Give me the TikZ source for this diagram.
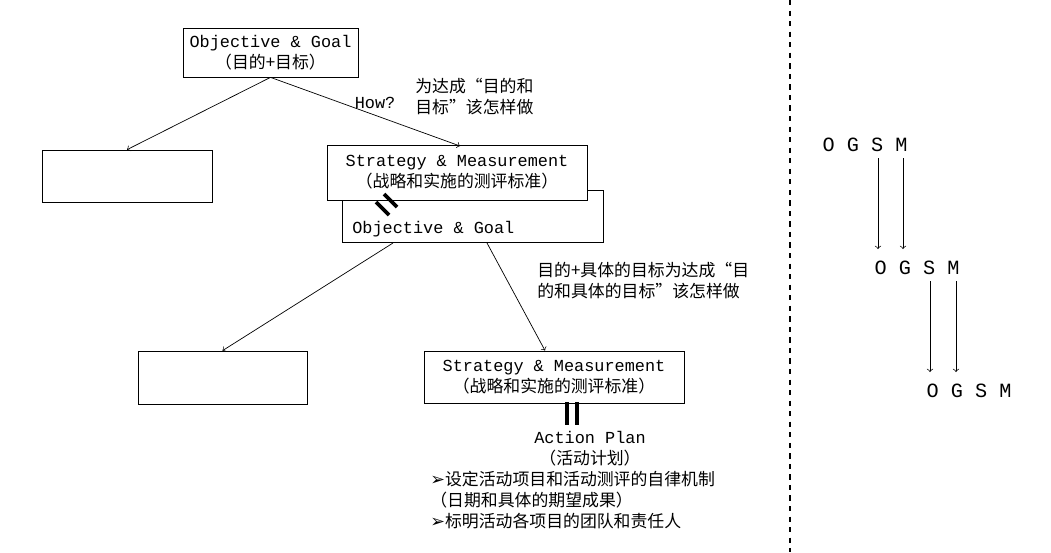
\documentclass[tikz,border=0pt]{standalone}
\usepackage{fontspec}
\setmainfont{Liberation Mono}
\newfontfamily\cjk{Noto Sans CJK SC}
\newfontfamily\dv{DejaVu Sans}
\usetikzlibrary{positioning}
\tikzset{
  box/.style = {draw, fill=white, align=center, inner sep=0pt},
  txt/.style = {align=left, inner sep=0pt},
  arr/.style = {->, thin},
  ogsm/.style = {inner sep=0pt, font=\fontsize{11.5}{13}\selectfont},
}
\newcommand{\zh}[1]{{\cjk #1}}
\newcommand{\tick}{{\dv\fontsize{10}{10}\selectfont ➢}}
\begin{document}
\begin{tikzpicture}[x=0.02cm, y=-0.02cm, font=\fontsize{9.6}{12}\selectfont]
\useasboundingbox (0,0) rectangle (1051,552);
% left part
\node [box, minimum width=175*0.02cm, minimum height=49*0.02cm] (og1) at (270.5,52.5) {Objective \& Goal\\\zh{（目的+目标）}};
\node [box, minimum width=170*0.02cm, minimum height=52*0.02cm] (e1) at (127,176) {};
\node [box, minimum width=261*0.02cm, minimum height=52*0.02cm, anchor=north west] (og2) at (342,190) {};
\node [txt, anchor=west] (og2t) at (352,229) {Objective \& Goal};
\node [box, minimum width=260*0.02cm, minimum height=55*0.02cm] (sm1) at (457,172.5) {Strategy \& Measurement\\\zh{（战略和实施的测评标准）}};
\node [box, minimum width=169*0.02cm, minimum height=53*0.02cm] (e2) at (222.5,377.5) {};
\node [box, minimum width=260*0.02cm, minimum height=52*0.02cm] (sm2) at (554,377) {Strategy \& Measurement\\\zh{（战略和实施的测评标准）}};
\coordinate (og2a) at (393,243);
\coordinate (og2b) at (487,243);
\draw [arr] (og1.south) -- (e1.north);
\draw [arr] (og1.south) -- (460,146);
\draw [arr] (og2a) -- (e2.north);
\draw [arr] (og2b) -- (545,350.5);
\node [txt] (how) at (375,103) {How?};
\node [txt, anchor=north west] (q1) at (415,78) {\zh{为达成“目的和}\\\zh{目标”该怎样做}};
\node [txt, anchor=north west] (q2) at (537,262) {\zh{目的+具体的目标为达成“目}\\\zh{的和具体的目标”该怎样做}};
% equal marks
\draw [line width=2.2pt] (376,202) -- (389,215) (384,194) -- (397,207);
\draw [line width=2.2pt] (567,402) -- (567,425) (577,402) -- (577,425);
\node [txt, align=center, anchor=north] (ap) at (590,431) {Action Plan\\\zh{（活动计划）}};
\node [txt, anchor=north west, font=\fontsize{9.6}{11.9}\selectfont] (apl) at (430,471) {\tick\zh{设定活动项目和活动测评的自律机制}\\\zh{（日期和具体的期望成果）}\\\tick\zh{标明活动各项目的团队和责任人}};
% divider
\coordinate (d1) at (790,0);
\coordinate (d2) at (790,552);
\draw [dashed, thick] (d1) -- (d2);
% OGSM
\node [ogsm] (o1) at (865,145) {O G S M};
\node [ogsm] (o2) at (917,268) {O G S M};
\node [ogsm] (o3) at (969,391) {O G S M};
\draw [arr] (878,158) -- (878,249);
\draw [arr] (903,158) -- (903,249);
\draw [arr] (930,281) -- (930,372);
\draw [arr] (956,281) -- (956,372);
\end{tikzpicture}
\end{document}
